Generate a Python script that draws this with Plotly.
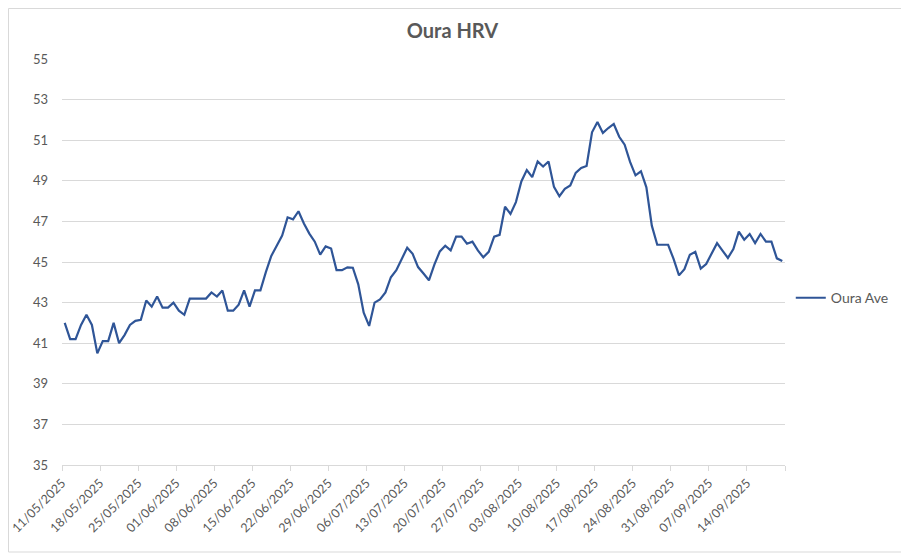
"""Oura HRV rolling average, Excel-style line chart."""

import pandas as pd
import plotly.graph_objs as go

# Daily Oura HRV average, starting 11/05/2025
start_date = "2025-05-11"
series_name = "Oura Ave"
hrv_may = [42.0, 41.2, 41.2, 41.9, 42.4, 41.9, 40.5, 41.1, 41.1, 42.0,
           41.0, 41.4, 41.9, 42.1, 42.15, 43.1, 42.8, 43.3, 42.75, 42.75,
           43.0]
hrv_jun = [42.6, 42.4, 43.2, 43.2, 43.2, 43.2, 43.5, 43.3, 43.6, 42.6,
           42.6, 42.9, 43.6, 42.8, 43.6, 43.6, 44.5, 45.3, 45.8, 46.3,
           47.2, 47.1, 47.5, 46.9, 46.4, 46.0, 45.36, 45.77, 45.66, 44.6]
hrv_jul = [44.6, 44.74, 44.72, 43.9, 42.5, 41.85, 43.0, 43.16, 43.5, 44.25,
           44.6, 45.16, 45.7, 45.4, 44.75, 44.43, 44.1, 44.87, 45.52, 45.8,
           45.57, 46.25, 46.25, 45.9, 46.0, 45.57, 45.23, 45.5, 46.25, 46.34,
           47.72]
hrv_aug = [47.37, 47.95, 48.97, 49.53, 49.18, 49.95, 49.7, 49.95, 48.7, 48.24,
           48.6, 48.77, 49.39, 49.63, 49.73, 51.39, 51.9, 51.36, 51.6, 51.8,
           51.17, 50.78, 49.93, 49.27, 49.47, 48.68, 46.79, 45.85, 45.85, 45.85,
           45.15]
hrv_sep = [44.34, 44.65, 45.36, 45.5, 44.67, 44.9, 45.44, 45.93, 45.56, 45.2,
           45.64, 46.5, 46.1, 46.38, 45.93, 46.38, 46.0, 46.0, 45.18, 45.05]
hrv = hrv_may + hrv_jun + hrv_jul + hrv_aug + hrv_sep

dates = pd.date_range(start_date, periods=len(hrv), freq="D")
half_day = pd.Timedelta(hours=12)

# Excel category axis: ticks every 7 days, marks sit between ticks
tick_dates = list(dates[::7])
tick_vals = [d - half_day for d in tick_dates] + [dates[-1] + half_day]
tick_text = [d.strftime("%d/%m/%Y") for d in tick_dates] + [""]
y_ticks = list(range(35, 56, 2))

grey_text = "#595959"
grid = "#D9D9D9"
font_family = "Lato, Calibri, Carlito, sans-serif"

# page body has an 8px margin, so the figure is a bit smaller than the window
W, H = 901, 547
L, R, T, B = 54, 124, 51, 90
plot_w, plot_h = W - L - R, H - T - B

fig = go.Figure()
fig.add_trace(go.Scatter(
    x=dates, y=hrv,
    mode="lines",
    name=series_name,
    line=dict(color="#2F5597", width=2.2),
))

fig.update_layout(
    width=W,
    height=H,
    margin=dict(l=L, r=R, t=T, b=B),
    paper_bgcolor="white",
    plot_bgcolor="white",
    font=dict(family=font_family, size=13, color=grey_text),
    title=dict(
        text="<b>Oura HRV</b>",
        x=444.5 / W, xref="container", xanchor="center",
        y=1 - 23 / H, yanchor="middle",
        font=dict(size=20, color=grey_text, family=font_family),
    ),
    showlegend=True,
    legend=dict(
        x=1.008, y=0.411, xanchor="left", yanchor="middle",
        font=dict(size=14, color=grey_text),
        bgcolor="rgba(0,0,0,0)",
        itemwidth=30,
    ),
    xaxis=dict(
        type="date",
        automargin=False,
        range=[dates[0] - half_day, dates[-1] + half_day],
        tickmode="array",
        tickvals=tick_vals,
        ticktext=tick_text,
        tickangle=-45,
        ticklabeloverflow="allow",
        ticks="outside",
        ticklen=5,
        tickcolor=grid,
        showgrid=False,
        showline=True,
        linecolor=grid,
        linewidth=1,
        zeroline=False,
        tickfont=dict(size=12.5, color=grey_text),
    ),
    yaxis=dict(
        automargin=False,
        range=[35, 55],
        tickvals=y_ticks,
        showgrid=True,
        gridcolor=grid,
        gridwidth=1,
        zeroline=False,
        showline=False,
        ticks="",
        ticklabelstandoff=13,
        tickfont=dict(size=13, color=grey_text),
    ),
    shapes=[dict(
        type="rect", xref="paper", yref="paper",
        x0=(0.5 - L) / plot_w, x1=(W - 2 - L) / plot_w,
        y0=-(B - 3) / plot_h, y1=(plot_h + T - 0.5) / plot_h,
        line=dict(color=grid, width=1),
        fillcolor="rgba(0,0,0,0)",
        layer="below",
    )],
)

fig.write_html("out.html")
